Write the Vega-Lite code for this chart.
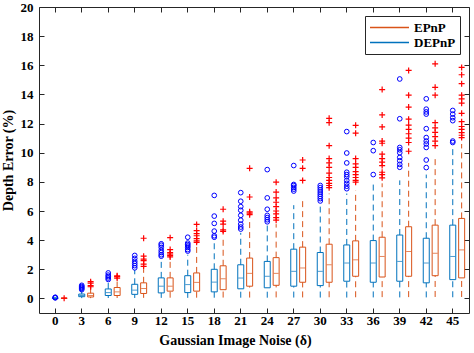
{
  "$schema": "https://vega.github.io/schema/vega-lite/v6.json",
  "width": 430,
  "height": 306,
  "autosize": "none",
  "padding": {"left": 39, "top": 7, "right": 5, "bottom": 40},
  "background": "white",
  "config": {
    "view": {"stroke": "#262626", "strokeWidth": 1},
    "font": "Liberation Serif",
    "axis": {
      "domain": false, "grid": false, "tickColor": "#262626", "tickWidth": 1, "tickSize": -5,
      "labelFont": "Liberation Serif", "labelFontSize": 13, "labelFontWeight": "bold", "labelColor": "#000000",
      "titleFont": "Liberation Serif", "titleFontSize": 14, "titleFontWeight": "bold", "titleColor": "#000000"
    },
    "legend": {
      "symbolType": "M-3,0H3", "symbolSize": 169, "symbolStrokeWidth": 1.5, "symbolOffset": 13, "labelOffset": 17, "rowPadding": -13,
      "labelFont": "Liberation Serif", "labelFontSize": 13, "labelFontWeight": "bold", "labelColor": "#000000",
      "strokeColor": "#262626", "fillColor": "white", "padding": 4, "offset": 9, "orient": "top-right", "title": null
    }
  },
  "datasets": {
    "boxes": [
      {"noise":0,"method":"DEPnP","lo":0,"q1":0.01,"med":0.02,"q3":0.03,"hi":0.05},
      {"noise":3,"method":"DEPnP","lo":0.02,"q1":0.12,"med":0.2,"q3":0.3,"hi":0.55},
      {"noise":6,"method":"DEPnP","lo":0.03,"q1":0.2,"med":0.4,"q3":0.65,"hi":1.2},
      {"noise":9,"method":"DEPnP","lo":0.03,"q1":0.28,"med":0.57,"q3":0.97,"hi":1.95},
      {"noise":12,"method":"DEPnP","lo":0.04,"q1":0.38,"med":0.84,"q3":1.41,"hi":2.6},
      {"noise":15,"method":"DEPnP","lo":0.04,"q1":0.4,"med":0.95,"q3":1.56,"hi":3.0},
      {"noise":18,"method":"DEPnP","lo":0.05,"q1":0.45,"med":1.12,"q3":2.0,"hi":3.8},
      {"noise":21,"method":"DEPnP","lo":0.05,"q1":0.66,"med":1.4,"q3":2.31,"hi":4.5},
      {"noise":24,"method":"DEPnP","lo":0.05,"q1":0.73,"med":1.52,"q3":2.54,"hi":5.0},
      {"noise":27,"method":"DEPnP","lo":0.06,"q1":0.84,"med":1.86,"q3":3.38,"hi":6.4},
      {"noise":30,"method":"DEPnP","lo":0.06,"q1":0.88,"med":1.86,"q3":3.15,"hi":6.3},
      {"noise":33,"method":"DEPnP","lo":0.06,"q1":1.18,"med":2.43,"q3":3.67,"hi":7.2},
      {"noise":36,"method":"DEPnP","lo":0.07,"q1":1.11,"med":2.43,"q3":3.97,"hi":7.9},
      {"noise":39,"method":"DEPnP","lo":0.07,"q1":1.18,"med":2.54,"q3":4.35,"hi":8.1},
      {"noise":42,"method":"DEPnP","lo":0.07,"q1":1.07,"med":2.43,"q3":4.13,"hi":8.5},
      {"noise":45,"method":"DEPnP","lo":0.08,"q1":1.29,"med":2.88,"q3":5.03,"hi":10.3},
      {"noise":0,"method":"EPnP","lo":0,"q1":0.005,"med":0.01,"q3":0.015,"hi":0.02},
      {"noise":3,"method":"EPnP","lo":0.02,"q1":0.1,"med":0.2,"q3":0.36,"hi":0.7},
      {"noise":6,"method":"EPnP","lo":0.03,"q1":0.2,"med":0.45,"q3":0.75,"hi":1.3},
      {"noise":9,"method":"EPnP","lo":0.04,"q1":0.34,"med":0.68,"q3":1.07,"hi":2.0},
      {"noise":12,"method":"EPnP","lo":0.05,"q1":0.5,"med":0.84,"q3":1.41,"hi":2.6},
      {"noise":15,"method":"EPnP","lo":0.05,"q1":0.5,"med":1.1,"q3":1.75,"hi":3.6},
      {"noise":18,"method":"EPnP","lo":0.06,"q1":0.6,"med":1.35,"q3":2.24,"hi":4.2},
      {"noise":21,"method":"EPnP","lo":0.06,"q1":0.84,"med":1.72,"q3":2.77,"hi":5.3},
      {"noise":24,"method":"EPnP","lo":0.07,"q1":0.9,"med":1.72,"q3":2.8,"hi":5.1},
      {"noise":27,"method":"EPnP","lo":0.07,"q1":1.11,"med":2.09,"q3":3.52,"hi":6.9},
      {"noise":30,"method":"EPnP","lo":0.08,"q1":1.11,"med":2.31,"q3":3.72,"hi":7.2},
      {"noise":33,"method":"EPnP","lo":0.08,"q1":1.52,"med":2.65,"q3":3.95,"hi":7.4},
      {"noise":36,"method":"EPnP","lo":0.09,"q1":1.47,"med":2.88,"q3":4.2,"hi":7.9},
      {"noise":39,"method":"EPnP","lo":0.09,"q1":1.52,"med":3.22,"q3":4.92,"hi":9.3},
      {"noise":42,"method":"EPnP","lo":0.1,"q1":1.56,"med":3.1,"q3":5.03,"hi":9.7},
      {"noise":45,"method":"EPnP","lo":0.1,"q1":1.41,"med":3.33,"q3":5.49,"hi":10.6}
    ],
    "outliers": [
      {"noise":0,"method":"DEPnP","value":0.04},{"noise":0,"method":"DEPnP","value":0.06},{"noise":0,"method":"DEPnP","value":0.08},
      {"noise":3,"method":"DEPnP","value":0.6},{"noise":3,"method":"DEPnP","value":0.68},{"noise":3,"method":"DEPnP","value":0.75},{"noise":3,"method":"DEPnP","value":0.82},{"noise":3,"method":"DEPnP","value":0.9},
      {"noise":6,"method":"DEPnP","value":1.3},{"noise":6,"method":"DEPnP","value":1.4},{"noise":6,"method":"DEPnP","value":1.5},{"noise":6,"method":"DEPnP","value":1.6},{"noise":6,"method":"DEPnP","value":1.75},
      {"noise":9,"method":"DEPnP","value":2.1},{"noise":9,"method":"DEPnP","value":2.25},{"noise":9,"method":"DEPnP","value":2.4},{"noise":9,"method":"DEPnP","value":2.55},{"noise":9,"method":"DEPnP","value":2.75},{"noise":9,"method":"DEPnP","value":2.95},
      {"noise":12,"method":"DEPnP","value":2.9},{"noise":12,"method":"DEPnP","value":3.0},{"noise":12,"method":"DEPnP","value":3.15},{"noise":12,"method":"DEPnP","value":3.3},{"noise":12,"method":"DEPnP","value":3.5},{"noise":12,"method":"DEPnP","value":3.65},{"noise":12,"method":"DEPnP","value":3.75},
      {"noise":15,"method":"DEPnP","value":3.25},{"noise":15,"method":"DEPnP","value":3.35},{"noise":15,"method":"DEPnP","value":3.5},{"noise":15,"method":"DEPnP","value":3.6},{"noise":15,"method":"DEPnP","value":3.7},{"noise":15,"method":"DEPnP","value":3.8},{"noise":15,"method":"DEPnP","value":4.2},
      {"noise":18,"method":"DEPnP","value":4.2},{"noise":18,"method":"DEPnP","value":4.3},{"noise":18,"method":"DEPnP","value":4.62},{"noise":18,"method":"DEPnP","value":5.15},{"noise":18,"method":"DEPnP","value":5.65},{"noise":18,"method":"DEPnP","value":7.07},
      {"noise":21,"method":"DEPnP","value":4.76},{"noise":21,"method":"DEPnP","value":4.9},{"noise":21,"method":"DEPnP","value":5.1},{"noise":21,"method":"DEPnP","value":5.37},{"noise":21,"method":"DEPnP","value":5.7},{"noise":21,"method":"DEPnP","value":6.05},{"noise":21,"method":"DEPnP","value":6.3},{"noise":21,"method":"DEPnP","value":6.67},{"noise":21,"method":"DEPnP","value":7.26},
      {"noise":24,"method":"DEPnP","value":5.26},{"noise":24,"method":"DEPnP","value":5.4},{"noise":24,"method":"DEPnP","value":5.55},{"noise":24,"method":"DEPnP","value":5.7},{"noise":24,"method":"DEPnP","value":6.12},{"noise":24,"method":"DEPnP","value":6.9},{"noise":24,"method":"DEPnP","value":8.84},
      {"noise":27,"method":"DEPnP","value":7.37},{"noise":27,"method":"DEPnP","value":7.5},{"noise":27,"method":"DEPnP","value":7.62},{"noise":27,"method":"DEPnP","value":7.75},{"noise":27,"method":"DEPnP","value":7.82},{"noise":27,"method":"DEPnP","value":9.12},
      {"noise":30,"method":"DEPnP","value":6.69},{"noise":30,"method":"DEPnP","value":6.85},{"noise":30,"method":"DEPnP","value":7.0},{"noise":30,"method":"DEPnP","value":7.15},{"noise":30,"method":"DEPnP","value":7.3},{"noise":30,"method":"DEPnP","value":7.45},{"noise":30,"method":"DEPnP","value":7.6},{"noise":30,"method":"DEPnP","value":7.75},
      {"noise":33,"method":"DEPnP","value":7.53},{"noise":33,"method":"DEPnP","value":7.7},{"noise":33,"method":"DEPnP","value":7.9},{"noise":33,"method":"DEPnP","value":8.1},{"noise":33,"method":"DEPnP","value":8.35},{"noise":33,"method":"DEPnP","value":8.5},{"noise":33,"method":"DEPnP","value":8.66},{"noise":33,"method":"DEPnP","value":9.3},{"noise":33,"method":"DEPnP","value":9.98},{"noise":33,"method":"DEPnP","value":11.45},
      {"noise":36,"method":"DEPnP","value":8.5},{"noise":36,"method":"DEPnP","value":10.14},{"noise":36,"method":"DEPnP","value":10.7},
      {"noise":39,"method":"DEPnP","value":9.0},{"noise":39,"method":"DEPnP","value":9.2},{"noise":39,"method":"DEPnP","value":9.45},{"noise":39,"method":"DEPnP","value":9.68},{"noise":39,"method":"DEPnP","value":10.0},{"noise":39,"method":"DEPnP","value":10.2},{"noise":39,"method":"DEPnP","value":10.36},{"noise":39,"method":"DEPnP","value":12.33},{"noise":39,"method":"DEPnP","value":15.06},
      {"noise":42,"method":"DEPnP","value":8.98},{"noise":42,"method":"DEPnP","value":9.5},{"noise":42,"method":"DEPnP","value":10.36},{"noise":42,"method":"DEPnP","value":10.6},{"noise":42,"method":"DEPnP","value":10.8},{"noise":42,"method":"DEPnP","value":11.04},{"noise":42,"method":"DEPnP","value":11.65},{"noise":42,"method":"DEPnP","value":12.65},{"noise":42,"method":"DEPnP","value":12.8},{"noise":42,"method":"DEPnP","value":12.99},{"noise":42,"method":"DEPnP","value":13.7},
      {"noise":45,"method":"DEPnP","value":10.7},{"noise":45,"method":"DEPnP","value":10.8},{"noise":45,"method":"DEPnP","value":12.2},{"noise":45,"method":"DEPnP","value":12.4},{"noise":45,"method":"DEPnP","value":12.65},{"noise":45,"method":"DEPnP","value":12.9},
      {"noise":0,"method":"EPnP","value":0.02},
      {"noise":3,"method":"EPnP","value":0.8},{"noise":3,"method":"EPnP","value":0.88},{"noise":3,"method":"EPnP","value":1.05},{"noise":3,"method":"EPnP","value":1.15},
      {"noise":6,"method":"EPnP","value":1.4},{"noise":6,"method":"EPnP","value":1.5},{"noise":6,"method":"EPnP","value":1.55},
      {"noise":9,"method":"EPnP","value":2.2},{"noise":9,"method":"EPnP","value":2.35},{"noise":9,"method":"EPnP","value":2.6},{"noise":9,"method":"EPnP","value":2.7},{"noise":9,"method":"EPnP","value":2.9},{"noise":9,"method":"EPnP","value":4.13},
      {"noise":12,"method":"EPnP","value":2.85},{"noise":12,"method":"EPnP","value":2.95},{"noise":12,"method":"EPnP","value":3.05},{"noise":12,"method":"EPnP","value":3.15},{"noise":12,"method":"EPnP","value":3.35},{"noise":12,"method":"EPnP","value":4.17},
      {"noise":15,"method":"EPnP","value":3.85},{"noise":15,"method":"EPnP","value":3.95},{"noise":15,"method":"EPnP","value":4.1},{"noise":15,"method":"EPnP","value":4.3},{"noise":15,"method":"EPnP","value":4.45},{"noise":15,"method":"EPnP","value":4.65},{"noise":15,"method":"EPnP","value":5.08},
      {"noise":18,"method":"EPnP","value":4.6},{"noise":18,"method":"EPnP","value":4.7},{"noise":18,"method":"EPnP","value":5.1},{"noise":18,"method":"EPnP","value":5.3},{"noise":18,"method":"EPnP","value":6.12},
      {"noise":21,"method":"EPnP","value":5.75},{"noise":21,"method":"EPnP","value":5.85},{"noise":21,"method":"EPnP","value":5.94},{"noise":21,"method":"EPnP","value":6.96},{"noise":21,"method":"EPnP","value":8.93},
      {"noise":24,"method":"EPnP","value":5.37},{"noise":24,"method":"EPnP","value":5.55},{"noise":24,"method":"EPnP","value":5.8},{"noise":24,"method":"EPnP","value":6.0},{"noise":24,"method":"EPnP","value":6.3},{"noise":24,"method":"EPnP","value":6.6},{"noise":24,"method":"EPnP","value":6.9},{"noise":24,"method":"EPnP","value":7.3},{"noise":24,"method":"EPnP","value":7.98},
      {"noise":27,"method":"EPnP","value":8.1},{"noise":27,"method":"EPnP","value":8.93},{"noise":27,"method":"EPnP","value":9.5},
      {"noise":30,"method":"EPnP","value":7.6},{"noise":30,"method":"EPnP","value":7.75},{"noise":30,"method":"EPnP","value":7.9},{"noise":30,"method":"EPnP","value":8.1},{"noise":30,"method":"EPnP","value":8.3},{"noise":30,"method":"EPnP","value":8.6},{"noise":30,"method":"EPnP","value":9.0},{"noise":30,"method":"EPnP","value":9.3},{"noise":30,"method":"EPnP","value":9.6},{"noise":30,"method":"EPnP","value":10.48},{"noise":30,"method":"EPnP","value":12.06},{"noise":30,"method":"EPnP","value":12.36},
      {"noise":33,"method":"EPnP","value":7.98},{"noise":33,"method":"EPnP","value":8.1},{"noise":33,"method":"EPnP","value":8.3},{"noise":33,"method":"EPnP","value":8.5},{"noise":33,"method":"EPnP","value":8.7},{"noise":33,"method":"EPnP","value":9.0},{"noise":33,"method":"EPnP","value":9.23},{"noise":33,"method":"EPnP","value":9.6},{"noise":33,"method":"EPnP","value":11.34},{"noise":33,"method":"EPnP","value":11.88},
      {"noise":36,"method":"EPnP","value":8.28},{"noise":36,"method":"EPnP","value":8.5},{"noise":36,"method":"EPnP","value":8.66},{"noise":36,"method":"EPnP","value":9.12},{"noise":36,"method":"EPnP","value":9.35},{"noise":36,"method":"EPnP","value":9.6},{"noise":36,"method":"EPnP","value":9.9},{"noise":36,"method":"EPnP","value":10.65},{"noise":36,"method":"EPnP","value":10.8},{"noise":36,"method":"EPnP","value":11.77},{"noise":36,"method":"EPnP","value":12.59},{"noise":36,"method":"EPnP","value":14.33},
      {"noise":39,"method":"EPnP","value":10.1},{"noise":39,"method":"EPnP","value":10.7},{"noise":39,"method":"EPnP","value":11.0},{"noise":39,"method":"EPnP","value":11.3},{"noise":39,"method":"EPnP","value":11.6},{"noise":39,"method":"EPnP","value":11.9},{"noise":39,"method":"EPnP","value":12.3},{"noise":39,"method":"EPnP","value":13.13},{"noise":39,"method":"EPnP","value":13.95},{"noise":39,"method":"EPnP","value":15.65},
      {"noise":42,"method":"EPnP","value":10.48},{"noise":42,"method":"EPnP","value":10.8},{"noise":42,"method":"EPnP","value":11.1},{"noise":42,"method":"EPnP","value":11.4},{"noise":42,"method":"EPnP","value":11.7},{"noise":42,"method":"EPnP","value":12.06},{"noise":42,"method":"EPnP","value":13.95},{"noise":42,"method":"EPnP","value":14.49},{"noise":42,"method":"EPnP","value":16.1},
      {"noise":45,"method":"EPnP","value":11.04},{"noise":45,"method":"EPnP","value":11.2},{"noise":45,"method":"EPnP","value":11.38},{"noise":45,"method":"EPnP","value":11.6},{"noise":45,"method":"EPnP","value":11.8},{"noise":45,"method":"EPnP","value":12.13},{"noise":45,"method":"EPnP","value":12.7},{"noise":45,"method":"EPnP","value":13.4},{"noise":45,"method":"EPnP","value":13.7},{"noise":45,"method":"EPnP","value":13.95},{"noise":45,"method":"EPnP","value":14.74},{"noise":45,"method":"EPnP","value":15.35},{"noise":45,"method":"EPnP","value":15.85}
    ]
  },
  "layer": [
    {
      "data": {"name": "boxes"},
      "mark": {"type": "rule", "strokeDash": [6, 4], "strokeWidth": 1},
      "encoding": {
        "x": {"field": "noise", "type": "ordinal", "scale": {"type": "band", "domain": [0,3,6,9,12,15,18,21,24,27,30,33,36,39,42,45], "paddingInner": 0, "paddingOuter": 0.113},
              "axis": {"orient": "bottom", "labelAngle": 0, "labelPadding": 6, "title": "Gaussian Image Noise (δ)", "titlePadding": 6, "titleX": 196}},
        "xOffset": {"field": "method", "type": "nominal", "scale": {"domain": ["L", "DEPnP", "EPnP"], "paddingInner": 0.326, "paddingOuter": 0.153}},
        "y": {"field": "lo", "type": "quantitative", "scale": {"domain": [-1, 20], "nice": false, "zero": false},
              "axis": {"orient": "left", "values": [0,2,4,6,8,10,12,14,16,18,20], "labelPadding": 11, "title": "Depth Error (%)", "titlePadding": 5}},
        "y2": {"field": "q1"},
        "color": {"field": "method", "type": "nominal", "scale": {"domain": ["EPnP", "DEPnP"], "range": ["#D95319", "#0072BD"]}}
      }
    },
    {
      "data": {"name": "boxes"},
      "mark": {"type": "rule", "strokeDash": [6, 4], "strokeWidth": 1},
      "encoding": {
        "x": {"field": "noise", "type": "ordinal",
              "axis": {"orient": "top", "labels": false, "title": null}},
        "xOffset": {"field": "method", "type": "nominal"},
        "y": {"field": "q3", "type": "quantitative",
              "axis": {"orient": "right", "values": [0,2,4,6,8,10,12,14,16,18,20], "labels": false, "title": null}},
        "y2": {"field": "hi"},
        "color": {"field": "method", "type": "nominal"}
      }
    },
    {
      "data": {"name": "boxes"},
      "mark": {"type": "bar", "filled": false, "strokeWidth": 1},
      "encoding": {
        "x": {"field": "noise", "type": "ordinal", "axis": null},
        "xOffset": {"field": "method", "type": "nominal"},
        "y": {"field": "q1", "type": "quantitative", "axis": null},
        "y2": {"field": "q3"},
        "color": {"field": "method", "type": "nominal"}
      }
    },
    {
      "data": {"name": "boxes"},
      "mark": {"type": "tick", "orient": "horizontal", "size": 5, "thickness": 1},
      "encoding": {
        "x": {"field": "noise", "type": "ordinal", "axis": null},
        "xOffset": {"field": "method", "type": "nominal"},
        "y": {"field": "med", "type": "quantitative", "axis": null},
        "color": {"field": "method", "type": "nominal"}
      }
    },
    {
      "data": {"name": "outliers"},
      "transform": [{"filter": {"field": "method", "equal": "DEPnP"}}],
      "mark": {"type": "point", "shape": "circle", "size": 22, "strokeWidth": 1, "color": "#0000FF", "filled": false, "opacity": 1},
      "encoding": {
        "x": {"field": "noise", "type": "ordinal", "axis": null},
        "xOffset": {"field": "method", "type": "nominal"},
        "y": {"field": "value", "type": "quantitative", "axis": null}
      }
    },
    {
      "data": {"name": "outliers"},
      "transform": [{"filter": {"field": "method", "equal": "EPnP"}}],
      "mark": {"type": "point", "shape": "M-1,0L1,0M0,-1L0,1", "size": 36, "strokeWidth": 1.2, "color": "#FF0000", "filled": false, "opacity": 1},
      "encoding": {
        "x": {"field": "noise", "type": "ordinal", "axis": null},
        "xOffset": {"field": "method", "type": "nominal"},
        "y": {"field": "value", "type": "quantitative", "axis": null}
      }
    }
  ],
  "resolve": {"axis": {"x": "independent", "y": "independent"}}
}
